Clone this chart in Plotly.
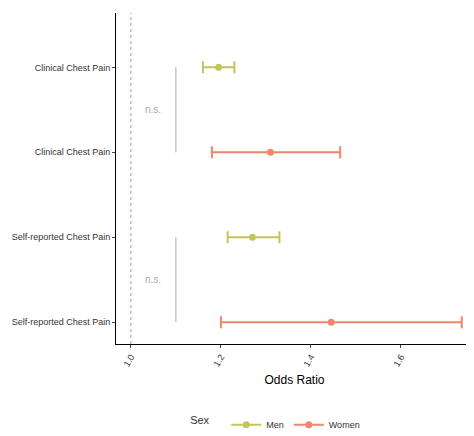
import plotly.graph_objects as go

labels = ["Clinical Chest Pain", "Clinical Chest Pain", "Self-reported Chest Pain", "Self-reported Chest Pain"]
rows = [4, 3, 2, 1]
sex = ["Men", "Women", "Men", "Women"]
odds = [1.195, 1.31, 1.27, 1.445]
lower = [1.16, 1.18, 1.215, 1.20]
upper = [1.23, 1.465, 1.33, 1.735]
colors = {"Men": "#c4c45c", "Women": "#f0866a"}

fig = go.Figure()
for s in ["Men", "Women"]:
    idx = [i for i in range(4) if sex[i] == s]
    fig.add_trace(go.Scatter(
        x=[odds[i] for i in idx], y=[rows[i] for i in idx], mode="markers",
        marker=dict(color=colors[s], size=7), name=s, showlegend=False,
        error_x=dict(type="data", symmetric=False,
                     array=[upper[i] - odds[i] for i in idx],
                     arrayminus=[odds[i] - lower[i] for i in idx],
                     color=colors[s], thickness=2, width=6)))
    fig.add_trace(go.Scatter(x=[None], y=[None], mode="lines+markers", name=s,
                             line=dict(color=colors[s], width=2),
                             marker=dict(color=colors[s], size=7)))

fig.add_vline(x=1.0, line=dict(color="#999999", width=1, dash="dot"))
for a, b in [(4, 3), (2, 1)]:
    fig.add_shape(type="line", x0=1.1, x1=1.1, y0=a, y1=b, line=dict(color="#aaaaaa", width=1))
    fig.add_annotation(x=1.05, y=(a + b) / 2, text="n.s.", showarrow=False,
                       font=dict(color="#aaaaaa", size=10))

fig.update_layout(
    width=474, height=436, plot_bgcolor="white", paper_bgcolor="white",
    margin=dict(l=108, r=9, t=5, b=96),
    font=dict(family="Liberation Sans", size=9, color="#333333"),
    xaxis=dict(range=[0.967, 1.76], tickvals=[1.0, 1.2, 1.4, 1.6], ticktext=["1.0", "1.2", "1.4", "1.6"],
               tickangle=-60, showgrid=False, zeroline=False, showline=True, linecolor="black",
               automargin=False, ticks="outside", ticklen=3,
               title=dict(text="Odds Ratio", font=dict(size=12, color="black"), standoff=8)),
    yaxis=dict(range=[0.744, 4.64], tickvals=rows, ticktext=labels, showgrid=False, zeroline=False,
               automargin=False, showline=True, linecolor="black", ticks="outside", ticklen=3),
    legend=dict(orientation="h", x=0.45, xanchor="center", y=-0.2, yanchor="top",
                title=dict(text="Sex   "), font=dict(size=9)),
)
fig.write_html("out.html")
